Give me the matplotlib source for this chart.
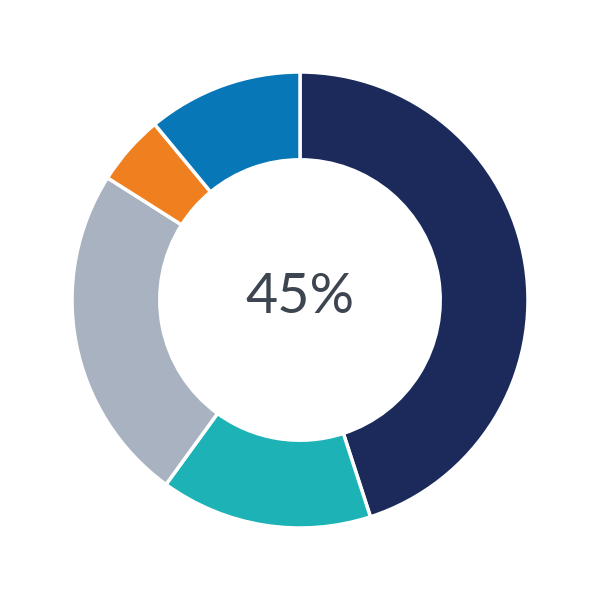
import matplotlib

matplotlib.use("Agg")
import matplotlib.pyplot as plt

# segment shares, clockwise from 12 o'clock
labels = ["A", "B", "C", "D", "E"]
values = [45, 15, 24, 5, 11]
colors = ["#1b2a5a", "#1db2b5", "#a8b2c0", "#f07f1f", "#0877b8"]
center_label = "45%"

fig = plt.figure(figsize=(6, 6), dpi=100)
ax = fig.add_axes([0, 0, 1, 1])
ax.pie(values, colors=colors, startangle=90, counterclock=False, radius=1.0,
       wedgeprops=dict(width=0.385, edgecolor="white", linewidth=2.5))
lim = 300 / 228
ax.set_xlim(-lim, lim)
ax.set_ylim(-lim, lim)
ax.set_aspect("equal")
ax.axis("off")

ax.text(0, 0.01, center_label, ha="center", va="center", fontsize=40,
        family=["Lato", "DejaVu Sans"], color="#3d4550")

fig.savefig("out.png", dpi=100, facecolor="white")
